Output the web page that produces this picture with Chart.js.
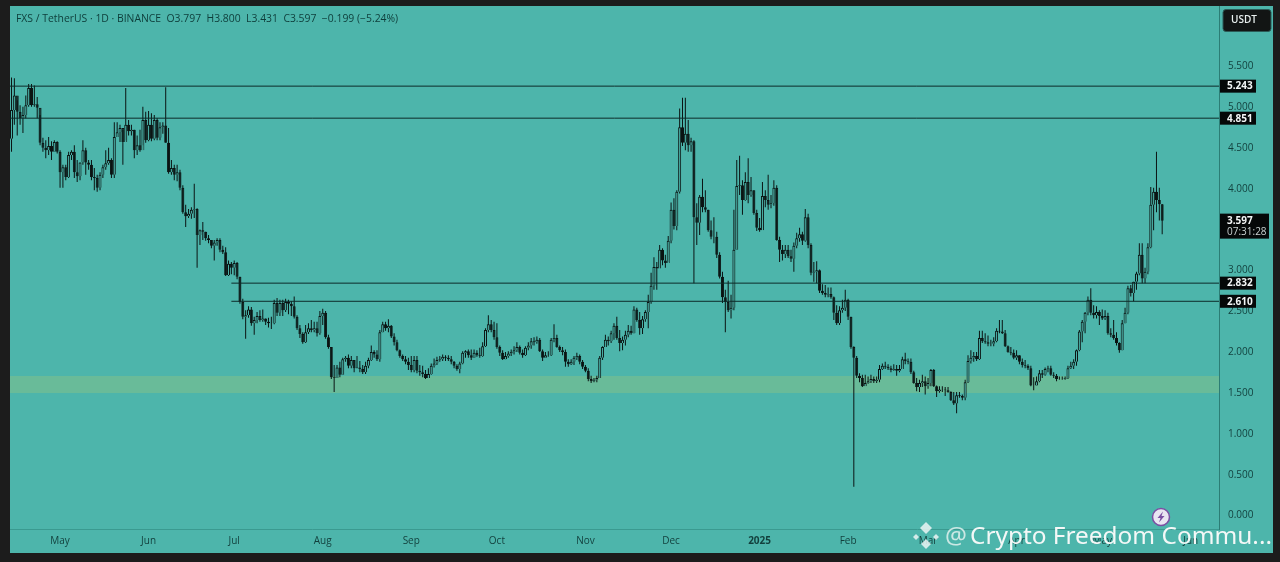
<!DOCTYPE html>
<html>
<head>
<meta charset="utf-8">
<title>FXS / TetherUS</title>
<script src="https://cdn.jsdelivr.net/npm/chart.js@4/dist/chart.umd.min.js"></script>
<style>
html, body { margin: 0; padding: 0; background: #1c1c1c; overflow: hidden; }
canvas { display: block; }
</style>
</head>
<body>
<canvas id="fxsChart" width="1280" height="562"></canvas>
<script>
// daily candles, 14 Apr 2024 .. 22 May 2025
const opens = [
  4.60,4.95,5.13,4.93,4.85,4.89,5.01,5.22,5.01,5.02,
  4.98,4.55,4.49,4.46,4.51,4.44,4.56,4.44,4.19,4.25,
  4.13,4.40,4.44,4.19,4.14,4.31,4.46,4.31,4.28,4.13,
  4.12,4.00,4.16,4.25,4.30,4.34,4.16,4.62,4.68,4.73,
  4.56,4.77,4.69,4.71,4.46,4.52,4.46,4.83,4.58,4.77,
  4.60,4.83,4.61,4.74,4.76,4.55,4.19,4.24,4.16,4.19,
  4.00,3.70,3.65,3.68,3.73,3.74,3.42,3.48,3.46,3.38,
  3.36,3.29,3.33,3.36,3.24,3.21,2.93,3.07,3.02,3.08,
  2.91,2.60,2.42,2.44,2.51,2.34,2.38,2.43,2.38,2.40,
  2.36,2.34,2.34,2.59,2.47,2.59,2.50,2.60,2.58,2.55,
  2.42,2.28,2.21,2.11,2.23,2.28,2.26,2.28,2.22,2.43,
  2.47,2.17,2.05,1.68,1.67,1.80,1.71,1.90,1.92,1.82,
  1.89,1.79,1.80,1.78,1.74,1.82,1.89,1.99,1.96,1.90,
  2.23,2.33,2.28,2.31,2.18,2.11,2.01,1.94,1.90,1.87,
  1.83,1.77,1.89,1.76,1.74,1.72,1.67,1.72,1.82,1.85,
  1.89,1.90,1.93,1.92,1.90,1.87,1.82,1.78,1.85,1.98,
  2.00,1.95,1.92,1.98,1.95,1.94,2.06,2.26,2.33,2.26,
  2.17,2.05,1.98,1.90,1.94,1.97,1.99,2.01,2.05,1.98,
  1.95,2.04,2.07,2.12,2.11,2.14,2.00,1.92,1.95,1.95,
  2.14,2.16,2.05,2.01,1.99,1.87,1.84,1.87,1.92,1.94,
  1.87,1.81,1.76,1.66,1.63,1.65,1.67,1.92,2.05,2.14,
  2.12,2.22,2.31,2.16,2.10,2.14,2.20,2.25,2.22,2.51,
  2.38,2.28,2.39,2.48,2.60,2.80,3.03,3.01,3.24,3.11,
  3.08,3.35,3.73,3.53,3.95,4.74,4.55,4.66,4.52,4.57,
  3.64,3.57,3.89,3.76,3.73,3.48,3.40,3.40,3.18,2.91,
  2.66,2.60,2.50,2.53,3.24,4.02,4.03,3.85,4.07,3.91,
  3.97,3.69,3.51,3.48,3.90,3.85,3.79,3.81,4.00,3.36,
  3.24,3.19,3.24,3.16,3.13,3.29,3.38,3.43,3.35,3.64,
  3.30,2.96,2.97,2.99,2.74,2.71,2.69,2.70,2.66,2.47,
  2.34,2.50,2.53,2.63,2.42,2.05,1.92,1.70,1.67,1.57,
  1.61,1.63,1.66,1.63,1.65,1.78,1.82,1.81,1.79,1.77,
  1.78,1.76,1.78,1.90,1.88,1.87,1.74,1.61,1.56,1.61,
  1.63,1.57,1.61,1.77,1.57,1.51,1.53,1.53,1.52,1.50,
  1.40,1.36,1.46,1.45,1.43,1.62,1.88,1.92,1.94,1.90,
  2.16,2.12,2.11,2.09,2.09,2.12,2.25,2.24,2.22,2.06,
  1.99,1.98,1.92,1.95,1.87,1.83,1.82,1.79,1.58,1.58,
  1.63,1.73,1.71,1.78,1.79,1.71,1.70,1.66,1.66,1.66,
  1.67,1.79,1.82,1.87,2.01,2.24,2.36,2.47,2.63,2.47,
  2.44,2.48,2.43,2.40,2.43,2.22,2.20,2.16,2.10,2.01,
  2.34,2.47,2.77,2.71,2.85,2.95,3.18,2.89,2.97,3.27,
  3.79,3.95,3.85,3.797
];
const closes = [
  4.95,5.13,4.93,4.85,4.89,5.01,5.22,5.01,5.02,4.98,
  4.55,4.49,4.46,4.51,4.44,4.56,4.44,4.19,4.25,4.13,
  4.40,4.44,4.19,4.14,4.31,4.46,4.31,4.28,4.13,4.12,
  4.00,4.16,4.25,4.30,4.34,4.16,4.62,4.68,4.73,4.56,
  4.77,4.69,4.71,4.46,4.52,4.46,4.83,4.58,4.77,4.60,
  4.83,4.61,4.74,4.76,4.55,4.19,4.24,4.16,4.19,4.00,
  3.70,3.65,3.68,3.73,3.74,3.42,3.48,3.46,3.38,3.36,
  3.29,3.33,3.36,3.24,3.21,2.93,3.07,3.02,3.08,2.91,
  2.60,2.42,2.44,2.51,2.34,2.38,2.43,2.38,2.40,2.36,
  2.34,2.34,2.59,2.47,2.59,2.50,2.60,2.58,2.55,2.42,
  2.28,2.21,2.11,2.23,2.28,2.26,2.28,2.22,2.43,2.47,
  2.17,2.05,1.68,1.67,1.80,1.71,1.90,1.92,1.82,1.89,
  1.79,1.80,1.78,1.74,1.82,1.89,1.99,1.96,1.90,2.23,
  2.33,2.28,2.31,2.18,2.11,2.01,1.94,1.90,1.87,1.83,
  1.77,1.89,1.76,1.74,1.72,1.67,1.72,1.82,1.85,1.89,
  1.90,1.93,1.92,1.90,1.87,1.82,1.78,1.85,1.98,2.00,
  1.95,1.92,1.98,1.95,1.94,2.06,2.26,2.33,2.26,2.17,
  2.05,1.98,1.90,1.94,1.97,1.99,2.01,2.05,1.98,1.95,
  2.04,2.07,2.12,2.11,2.14,2.00,1.92,1.95,1.95,2.14,
  2.16,2.05,2.01,1.99,1.87,1.84,1.87,1.92,1.94,1.87,
  1.81,1.76,1.66,1.63,1.65,1.67,1.92,2.05,2.14,2.12,
  2.22,2.31,2.16,2.10,2.14,2.20,2.25,2.22,2.51,2.38,
  2.28,2.39,2.48,2.60,2.80,3.03,3.01,3.24,3.11,3.08,
  3.35,3.73,3.53,3.95,4.74,4.55,4.66,4.52,4.57,3.64,
  3.57,3.89,3.76,3.73,3.48,3.40,3.40,3.18,2.91,2.66,
  2.60,2.50,2.53,3.24,4.02,4.03,3.85,4.07,3.91,3.97,
  3.69,3.51,3.48,3.90,3.85,3.79,3.81,4.00,3.36,3.24,
  3.19,3.24,3.16,3.13,3.29,3.38,3.43,3.35,3.64,3.30,
  2.96,2.97,2.99,2.74,2.71,2.69,2.70,2.66,2.47,2.34,
  2.50,2.53,2.63,2.42,2.05,1.92,1.70,1.67,1.57,1.61,
  1.63,1.66,1.63,1.65,1.78,1.82,1.81,1.79,1.77,1.78,
  1.76,1.78,1.90,1.88,1.87,1.74,1.61,1.56,1.61,1.63,
  1.57,1.61,1.77,1.57,1.51,1.53,1.53,1.52,1.50,1.40,
  1.36,1.46,1.45,1.43,1.62,1.88,1.92,1.94,1.90,2.16,
  2.12,2.11,2.09,2.09,2.12,2.25,2.24,2.22,2.06,1.99,
  1.98,1.92,1.95,1.87,1.83,1.82,1.79,1.58,1.58,1.63,
  1.73,1.71,1.78,1.79,1.71,1.70,1.66,1.66,1.66,1.67,
  1.79,1.82,1.87,2.01,2.24,2.36,2.47,2.63,2.47,2.44,
  2.48,2.43,2.40,2.43,2.22,2.20,2.16,2.10,2.01,2.34,
  2.47,2.77,2.71,2.85,2.95,3.18,2.89,2.97,3.27,3.79,
  3.95,3.85,3.797,3.597
];
const highs = [
  5.35,5.34,5.07,5.01,4.99,5.13,5.27,5.27,5.25,5.11,
  4.89,4.61,4.58,4.62,4.57,4.58,4.57,4.46,4.28,4.28,
  4.44,4.46,4.52,4.34,4.31,4.58,4.49,4.34,4.34,4.24,
  4.16,4.19,4.28,4.46,4.49,4.36,4.80,4.80,4.77,4.71,
  5.22,4.83,4.77,4.71,4.64,4.71,4.99,4.93,4.94,4.91,
  4.89,4.85,4.80,4.80,5.23,4.73,4.34,4.28,4.28,4.22,
  4.03,3.79,3.74,3.76,4.05,3.75,3.49,3.58,3.46,3.42,
  3.36,3.36,3.38,3.38,3.29,3.27,3.11,3.09,3.11,3.09,
  2.91,2.64,2.50,2.55,2.54,2.42,2.48,2.50,2.51,2.40,
  2.41,2.42,2.63,2.65,2.63,2.63,2.64,2.63,2.61,2.67,
  2.44,2.32,2.23,2.32,2.34,2.38,2.36,2.36,2.49,2.52,
  2.49,2.20,2.05,1.83,1.83,1.87,1.92,1.94,1.96,1.94,
  1.89,1.94,1.88,1.83,1.87,1.92,2.07,2.01,2.01,2.26,
  2.36,2.36,2.39,2.32,2.22,2.14,2.02,1.96,1.94,1.92,
  1.94,1.94,1.94,1.83,1.82,1.77,1.79,1.85,1.91,1.93,
  1.94,1.96,1.95,1.95,1.94,1.88,1.84,1.87,2.00,2.01,
  2.02,2.02,2.02,2.01,2.04,2.11,2.28,2.44,2.38,2.36,
  2.34,2.07,2.01,1.99,2.00,2.02,2.06,2.11,2.07,2.02,
  2.06,2.11,2.16,2.17,2.18,2.16,2.02,1.99,2.00,2.16,
  2.33,2.20,2.07,2.05,2.02,1.90,1.90,1.94,1.98,1.96,
  1.89,1.83,1.79,1.70,1.67,1.70,1.94,2.06,2.20,2.18,
  2.25,2.34,2.42,2.26,2.18,2.25,2.32,2.31,2.55,2.53,
  2.48,2.43,2.50,2.69,2.96,3.15,3.09,3.30,3.26,3.18,
  3.41,3.82,3.87,3.97,4.97,5.10,5.10,4.83,4.61,4.58,
  3.81,3.91,4.11,3.97,3.73,3.60,3.64,3.46,3.21,2.97,
  2.75,2.86,2.69,3.73,4.34,4.39,4.09,4.19,4.36,4.13,
  3.97,3.73,3.63,4.07,3.97,4.16,3.91,4.09,4.03,3.40,
  3.30,3.30,3.30,3.24,3.33,3.45,3.51,3.46,3.74,3.68,
  3.32,3.09,3.10,3.00,2.82,2.81,2.78,2.78,2.67,2.56,
  2.55,2.63,2.75,2.64,2.42,2.06,1.94,1.73,1.71,1.71,
  1.69,1.71,1.69,1.69,1.83,1.85,1.87,1.84,1.82,1.84,
  1.83,1.83,1.93,1.98,1.91,1.91,1.76,1.67,1.65,1.71,
  1.69,1.67,1.78,1.78,1.58,1.57,1.57,1.56,1.56,1.51,
  1.50,1.50,1.50,1.47,1.65,1.95,2.01,1.99,1.99,2.25,
  2.25,2.22,2.19,2.14,2.17,2.28,2.38,2.38,2.26,2.07,
  2.05,2.02,2.01,1.95,1.91,1.89,1.84,1.82,1.68,1.69,
  1.77,1.77,1.80,1.82,1.82,1.74,1.72,1.69,1.69,1.69,
  1.82,1.87,1.90,2.02,2.26,2.38,2.48,2.67,2.77,2.56,
  2.55,2.50,2.51,2.50,2.47,2.28,2.38,2.23,2.11,2.38,
  2.53,2.80,2.81,2.85,2.97,3.32,3.32,3.02,3.32,4.01,
  4.00,4.44,4.00,3.80
];
const lows = [
  4.44,4.77,4.64,4.77,4.67,4.85,4.99,4.99,4.99,4.85,
  4.52,4.44,4.36,4.40,4.34,4.44,4.42,4.00,4.00,4.09,
  4.12,4.34,4.12,4.07,4.09,4.28,4.16,4.22,4.09,3.97,
  3.95,3.97,4.12,4.22,4.28,4.12,4.12,4.62,4.56,4.28,
  4.58,4.64,4.64,4.36,4.40,4.44,4.52,4.55,4.57,4.57,
  4.58,4.58,4.58,4.66,4.55,4.17,4.16,4.09,4.08,3.97,
  3.68,3.52,3.63,3.62,3.63,3.02,3.30,3.36,3.35,3.32,
  3.26,3.11,3.29,3.21,3.19,2.92,2.92,2.94,2.93,2.88,
  2.58,2.39,2.15,2.41,2.31,2.20,2.34,2.36,2.36,2.32,
  2.29,2.27,2.33,2.43,2.43,2.43,2.48,2.45,2.43,2.40,
  2.26,2.16,2.09,2.10,2.21,2.23,2.23,2.18,2.20,2.32,
  2.15,2.03,1.66,1.50,1.67,1.68,1.71,1.87,1.79,1.79,
  1.74,1.79,1.74,1.72,1.72,1.79,1.88,1.92,1.88,1.87,
  2.23,2.25,2.23,2.16,2.07,2.00,1.92,1.88,1.84,1.77,
  1.74,1.74,1.73,1.70,1.68,1.66,1.70,1.71,1.80,1.83,
  1.87,1.88,1.88,1.88,1.84,1.79,1.76,1.73,1.84,1.92,
  1.92,1.89,1.92,1.93,1.92,1.93,2.05,2.23,2.23,2.14,
  2.03,1.94,1.89,1.90,1.92,1.94,1.96,1.99,1.96,1.92,
  1.94,2.01,2.03,2.07,2.09,1.99,1.88,1.92,1.93,1.94,
  2.11,2.04,1.99,1.95,1.81,1.81,1.83,1.83,1.89,1.84,
  1.78,1.74,1.63,1.61,1.62,1.62,1.67,1.89,2.05,2.07,
  2.10,2.14,2.14,2.00,2.01,2.07,2.17,2.20,2.22,2.36,
  2.20,2.21,2.36,2.28,2.58,2.75,2.75,3.02,3.05,3.02,
  3.09,3.32,3.49,3.48,3.93,4.51,4.46,4.44,4.44,2.83,
  3.30,3.42,3.70,3.70,3.46,3.37,3.32,3.14,2.89,2.59,
  2.23,2.48,2.40,2.50,3.24,3.91,3.67,3.84,3.81,3.89,
  3.67,3.47,3.46,3.60,3.76,3.73,3.75,3.78,3.35,3.09,
  3.11,3.14,3.14,3.09,2.97,3.26,3.34,3.30,3.34,3.26,
  2.93,2.85,2.83,2.71,2.69,2.66,2.66,2.64,2.38,2.32,
  2.32,2.47,2.49,2.38,2.03,0.34,1.67,1.62,1.56,1.58,
  1.60,1.61,1.61,1.61,1.62,1.77,1.78,1.77,1.74,1.76,
  1.70,1.74,1.79,1.84,1.84,1.72,1.60,1.51,1.50,1.56,
  1.47,1.54,1.57,1.56,1.44,1.49,1.50,1.45,1.49,1.39,
  1.34,1.24,1.43,1.40,1.40,1.61,1.85,1.87,1.88,1.89,
  2.10,2.09,2.06,2.06,2.06,2.11,2.22,2.21,2.05,1.98,
  1.95,1.90,1.89,1.84,1.80,1.79,1.77,1.57,1.52,1.58,
  1.62,1.67,1.70,1.74,1.70,1.67,1.63,1.65,1.65,1.65,
  1.66,1.78,1.78,1.82,2.00,2.11,2.22,2.44,2.44,2.40,
  2.40,2.32,2.38,2.38,2.20,2.17,2.14,2.07,1.98,2.01,
  2.34,2.45,2.67,2.61,2.75,2.93,2.83,2.83,2.94,3.26,
  3.48,3.70,3.60,3.431
];

const monthTicks = [17, 48, 78, 109, 140, 170, 201, 231, 262, 293, 321, 352, 382, 413];
const monthNames = ['May', 'Jun', 'Jul', 'Aug', 'Sep', 'Oct', 'Nov', 'Dec', '2025', 'Feb', 'Mar', 'Apr', 'May', 'Jun'];
const priceTicks = [0, 0.5, 1, 1.5, 2, 2.5, 3, 3.5, 4, 4.5, 5, 5.5];

const levelPrices = [5.243, 4.851, 2.832, 2.610];
const levelStartDay = [-0.53, -0.53, 77, 77];
const zoneTop = 1.695;
const zoneBottom = 1.487;
const lastPrice = 3.597;
const countdown = '07:31:28';
const headerText = 'FXS / TetherUS · 1D · BINANCE  O3.797  H3.800  L3.431  C3.597  −0.199 (−5.24%)';

const TEAL = '#4db5ab';
const INK = '#0b1413';
const XMIN = -0.53;
const XMAX = 422.9;

const wickData = lows.map((l, i) => ({ x: i, y: [l, highs[i]] }));
const bodyData = opens.map((o, i) => ({ x: i, y: [Math.min(o, closes[i]), Math.max(o, closes[i])] }));
const bodyFill = opens.map((o, i) => closes[i] >= o ? TEAL : INK);

function hline(price, start, order) {
    return {
        type: 'line',
        data: [{ x: start, y: price }, { x: XMAX, y: price }],
        borderColor: '#0d2b29',
        borderWidth: 1,
        pointRadius: 0,
        order: order
    };
}

const decorPlugin = {
    id: 'decor',
    beforeDraw(chart) {
        const c = chart.ctx;
        c.save();
        c.fillStyle = '#1c1c1c';
        c.fillRect(0, 0, 1280, 562);
        c.fillStyle = TEAL;
        c.fillRect(10, 6, 1263, 547);
        c.restore();
    },
    afterDraw(chart) {
        const c = chart.ctx;
        const y = chart.scales.y;
        c.save();
        c.textBaseline = 'middle';

        // legend line
        c.fillStyle = '#0e3d3a';
        c.font = '10.4px "Open Sans"';
        c.fillText(headerText, 16, 19.5);

        // USDT button
        c.fillStyle = '#121514';
        c.strokeStyle = '#2b5a56';
        c.beginPath();
        c.roundRect(1223, 9.5, 48, 22, 3);
        c.fill();
        c.stroke();
        c.fillStyle = '#e8efee';
        c.font = '600 10px "Open Sans"';
        c.fillText('USDT', 1231, 20.5);

        // level tags
        levelPrices.forEach(p => {
            const py = y.getPixelForValue(p);
            c.fillStyle = '#050808';
            c.fillRect(1220, py - 6.5, 36, 13);
            c.fillStyle = '#f2f5f5';
            c.font = 'bold 10px "Open Sans"';
            c.fillText(p.toFixed(3), 1227, py + 0.5);
        });

        // last price tag
        const ly = y.getPixelForValue(lastPrice);
        c.fillStyle = '#050808';
        c.fillRect(1220, ly - 7, 49, 25);
        c.fillStyle = '#f2f5f5';
        c.font = 'bold 10px "Open Sans"';
        c.fillText(lastPrice.toFixed(3), 1227, ly + 0.5);
        c.fillStyle = '#c9d2d1';
        c.font = '10px "Open Sans"';
        c.fillText(countdown, 1227, ly + 12);

        // lightning badge
        c.beginPath();
        c.arc(1161, 517, 8.5, 0, Math.PI * 2);
        c.fillStyle = '#e9e6f2';
        c.fill();
        c.strokeStyle = '#7b4fa3';
        c.lineWidth = 1.5;
        c.stroke();
        c.fillStyle = '#7b4fa3';
        c.beginPath();
        c.moveTo(1163, 511.5);
        c.lineTo(1157.5, 518);
        c.lineTo(1160.5, 518);
        c.lineTo(1159, 522.5);
        c.lineTo(1164.5, 516);
        c.lineTo(1161.5, 516);
        c.closePath();
        c.fill();

        // watermark logo
        c.fillStyle = 'rgba(235,245,243,0.85)';
        [[926, 528, 6], [916, 537, 3], [936, 537, 3], [926, 544, 5]].forEach(d => {
            c.beginPath();
            c.moveTo(d[0], d[1] - d[2]);
            c.lineTo(d[0] + d[2], d[1]);
            c.lineTo(d[0], d[1] + d[2]);
            c.lineTo(d[0] - d[2], d[1]);
            c.closePath();
            c.fill();
        });

        // watermark text
        c.font = '24.4px "Noto Sans"';
        c.fillStyle = 'rgba(235,245,243,0.8)';
        c.fillText('@', 945, 537);
        c.fillStyle = '#f4f8f7';
        c.fillText('Crypto Freedom Commu...', 970, 537);
        c.restore();
    }
};

new Chart(document.getElementById('fxsChart').getContext('2d'), {
    type: 'bar',
    data: {
        datasets: [
            { data: bodyData, backgroundColor: bodyFill, borderColor: INK, borderWidth: 1, barThickness: 3, inflateAmount: 0, grouped: false, order: 1 },
            { data: wickData, backgroundColor: INK, borderWidth: 0, barThickness: 1, inflateAmount: 0, grouped: false, order: 2 },
            { type: 'line', data: [{ x: XMIN, y: zoneTop }, { x: XMAX, y: zoneTop }], borderWidth: 0, pointRadius: 0, backgroundColor: '#69bb99', fill: '+1', order: 5 },
            { type: 'line', data: [{ x: XMIN, y: zoneBottom }, { x: XMAX, y: zoneBottom }], borderWidth: 0, pointRadius: 0, order: 6 },
            ...levelPrices.map((p, i) => hline(p, levelStartDay[i], 0))
        ]
    },
    options: {
        responsive: false,
        animation: false,
        devicePixelRatio: 1,
        layout: { padding: { left: 10, top: 6, right: 7, bottom: 9 } },
        plugins: { legend: { display: false }, tooltip: { enabled: false } },
        scales: {
            x: {
                type: 'linear',
                min: XMIN,
                max: XMAX,
                offset: false,
                grid: { display: false, offset: false, drawTicks: false },
                border: { display: true, color: '#3a9a90', width: 1 },
                afterBuildTicks: s => { s.ticks = monthTicks.map(v => ({ value: v })); },
                afterFit: s => { s.height = 24; s.paddingLeft = 0; s.paddingRight = 0; },
                ticks: {
                    autoSkip: false,
                    maxRotation: 0,
                    color: '#123f3c',
                    padding: 6,
                    font: ctx => ({ family: '"Open Sans"', size: 10, weight: ctx.tick && ctx.tick.value === 262 ? 'bold' : 'normal' }),
                    callback: v => monthNames[monthTicks.indexOf(v)]
                }
            },
            y: {
                position: 'right',
                min: -0.177,
                max: 6.224,
                grid: { display: false, drawTicks: false },
                border: { display: true, color: '#2c7d75', width: 1 },
                afterBuildTicks: s => { s.ticks = priceTicks.map(v => ({ value: v })); },
                afterFit: s => { s.width = 54; s.paddingTop = 0; s.paddingBottom = 0; },
                ticks: {
                    color: '#123f3c',
                    padding: 9,
                    labelOffset: 1,
                    font: { family: '"Open Sans"', size: 10 },
                    callback: v => v.toFixed(3)
                }
            }
        }
    },
    plugins: [decorPlugin]
});
</script>
</body>
</html>
